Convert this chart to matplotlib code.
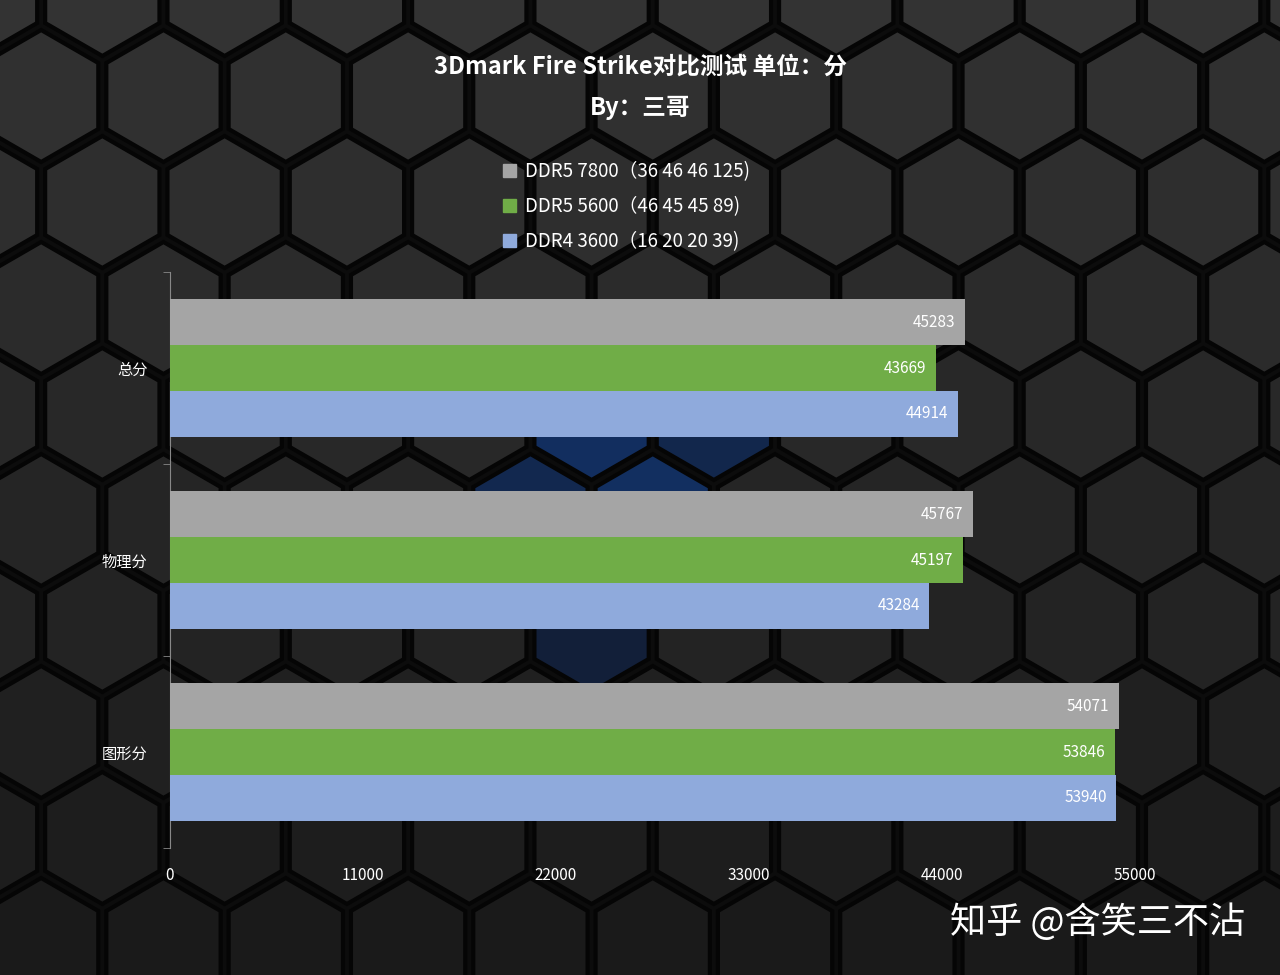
import numpy as np
import matplotlib.pyplot as plt
from matplotlib.patches import RegularPolygon, Patch

plt.rcParams['font.family'] = ['Noto Sans CJK SC', 'DejaVu Sans']

categories = ["总分", "物理分", "图形分"]
series_names = ["DDR5 7800（36 46 46 125)", "DDR5 5600（46 45 45 89)", "DDR4 3600（16 20 20 39)"]
ddr5_7800 = [45283, 45767, 54071]
ddr5_5600 = [43669, 45197, 53846]
ddr4_3600 = [44914, 43284, 53940]
colors = ["#a5a5a5", "#70ad47", "#8faadc"]
xticks = [0, 11000, 22000, 33000, 44000, 55000]

W, H = 1280, 975
fig = plt.figure(figsize=(12.8, 9.75), dpi=100)
fig.patch.set_facecolor("#0c0c0c")

# hexagon background
bg = fig.add_axes([0, 0, 1, 1])
bg.set_xlim(0, W)
bg.set_ylim(H, 0)
bg.axis("off")
r = 66
dx = r * np.sqrt(3) + 8
dy = 1.5 * r + 7
for row in range(-1, 12):
    for col in range(-1, 12):
        cx = col * dx + (dx / 2 if row % 2 else 0) - 20
        cy = row * dy - 10
        shade = 0.20 - 0.10 * (cy / H)
        dist = np.hypot(cx - 620, cy - 470)
        if dist < 160:
            fc = (0.07, 0.12 + 0.1 * (1 - dist / 160), 0.22 + 0.25 * (1 - dist / 160))
        else:
            fc = (shade, shade, shade)
        bg.add_patch(RegularPolygon((cx, cy), 6, radius=r, orientation=0,
                                    facecolor=fc, edgecolor="#050505", lw=3))

ax = fig.add_axes([170 / W, 1 - 848 / H, 965 / W, 576 / H])
ax.patch.set_alpha(0)
y = np.arange(len(categories))
h = 46 / 193
for k, (vals, name) in enumerate(zip([ddr5_7800, ddr5_5600, ddr4_3600], series_names)):
    pos = y + (k - 1) * h
    ax.barh(pos, vals, height=h, color=colors[k], label=name, zorder=3)
    for p, v in zip(pos, vals):
        ax.text(v - 550, p, str(v), color="white", ha="right", va="center", fontsize=11, zorder=4)

ax.set_ylim(2.5, -0.5)
ax.set_xlim(0, 55000)
ax.set_xticks(xticks)
ax.set_xticklabels([str(t) for t in xticks], color="white", fontsize=11)
ax.set_yticks(y)
ax.set_yticklabels(categories, color="white", fontsize=11)
ax.set_yticks([-0.5, 0.5, 1.5, 2.5], minor=True)
ax.tick_params(axis="y", which="major", length=0, pad=16)
ax.tick_params(axis="y", which="minor", length=5, color="#888888")
ax.tick_params(axis="x", length=0, pad=14)
ax.axvline(55400, color="#777777", lw=1, zorder=1)
for s in ["top", "right", "bottom"]:
    ax.spines[s].set_visible(False)
ax.spines["left"].set_color("#888888")

fig.text(0.5, 1 - 67 / H, "3Dmark Fire Strike对比测试 单位：分", color="white",
         ha="center", va="center", fontsize=17, fontweight="bold")
fig.text(0.5, 1 - 108 / H, "By：三哥", color="white", ha="center", va="center",
         fontsize=17, fontweight="bold")

handles = [Patch(color=c) for c in colors]
fig.legend(handles, series_names, loc="upper left", bbox_to_anchor=(486 / W, 1 - 144 / H),
           frameon=False, labelcolor="white", fontsize=13.5, handlelength=0.7,
           handleheight=0.7, handletextpad=0.5, labelspacing=0.75)

fig.text(1245 / W, 1 - 922 / H, "知乎 @含笑三不沾", color="white", ha="right",
         va="center", fontsize=26)

fig.savefig("out.png", dpi=100, facecolor=fig.get_facecolor())
